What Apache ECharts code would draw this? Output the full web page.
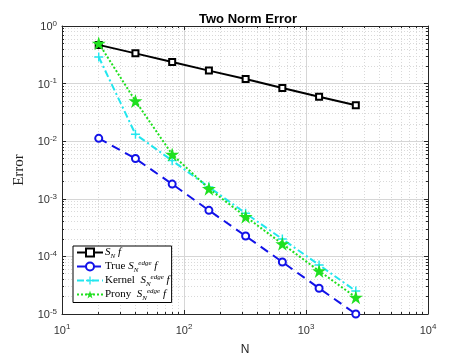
<!DOCTYPE html>
<html>
<head>
<meta charset="utf-8">
<script src="https://cdn.jsdelivr.net/npm/echarts@6/dist/echarts.min.js"></script>
<style>html,body{margin:0;padding:0;background:#fff}#c{width:474px;height:355px}</style>
</head>
<body>
<div id="c"></div>
<script>
var N = [20, 40, 80, 160, 320, 640, 1280, 2560];
var snF = [0.47, 0.335, 0.237, 0.168, 0.12, 0.084, 0.059, 0.042];
var trueEdge = [0.0112, 0.0050, 0.0018, 0.00063, 0.000226, 0.00008, 0.000028, 0.00001];
var kernelEdge = [0.29, 0.0132, 0.0046, 0.0016, 0.00056, 0.0002, 0.000071, 0.000025];
var pronyEdge = [0.50, 0.050, 0.0059, 0.0015, 0.00049, 0.000165, 0.000056, 0.0000195];
var seriesNames = ['Sn', 'True', 'Kernel', 'Prony'];

function pairs(ys) { return N.map(function (n, i) { return [n, ys[i]]; }); }
function expLabel(v) {
  var e = Math.round(Math.log(v) / Math.LN10);
  return '{b|10}{s|' + (e < 0 ? '-' + (-e) : e) + '}';
}
var tickRich = {
  b: { fontSize: 11, fontFamily: 'Liberation Sans, Arial, sans-serif', color: '#333', lineHeight: 13, verticalAlign: 'bottom' },
  s: { fontSize: 8, fontFamily: 'Liberation Sans, Arial, sans-serif', color: '#333', lineHeight: 13, verticalAlign: 'top' }
};
var lgRich = {
  r: { fontFamily: 'Liberation Serif, Times New Roman, serif', fontSize: 11, color: '#000', lineHeight: 14, verticalAlign: 'middle' },
  i: { fontFamily: 'Liberation Serif, Times New Roman, serif', fontStyle: 'italic', fontSize: 11, color: '#000', lineHeight: 14, verticalAlign: 'middle' },
  sub: { fontFamily: 'Liberation Serif, Times New Roman, serif', fontStyle: 'italic', fontSize: 7, color: '#000', lineHeight: 13, verticalAlign: 'bottom' },
  sup: { fontFamily: 'Liberation Serif, Times New Roman, serif', fontStyle: 'italic', fontSize: 7, color: '#000', lineHeight: 13, verticalAlign: 'top' }
};
var legendText = {
  Sn: '{i|S}{sub|N}{i| f}',
  True: '{r|True }{i|S}{sub|N}{sup|edge}{i| f}',
  Kernel: '{r|Kernel  }{i|S}{sub|N}{sup|edge}{i| f}',
  Prony: '{r|Prony  }{i|S}{sub|N}{sup|edge}{i| f}'
};
var starPath = 'path://M50,0L61.2,34.5L97.6,34.5L68.2,55.9L79.4,90.5L50,69.1L20.6,90.5L31.8,55.9L2.4,34.5L38.8,34.5Z';
var plusPath = 'path://M4.2,0H5.8V4.2H10V5.8H5.8V10H4.2V5.8H0V4.2H4.2Z';

var axisCol = '#262626';
function logAxis(pos, main, min, max) {
  return {
    type: 'log', logBase: 10, min: min, max: max, position: pos,
    axisLine: { show: true, onZero: false, lineStyle: { color: axisCol, width: 1 } },
    axisTick: { show: true, inside: true, length: 4, lineStyle: { color: axisCol } },
    minorTick: { show: true, splitNumber: 9, length: 2, lineStyle: { color: axisCol } },
    axisLabel: main ? { show: true, formatter: expLabel, rich: tickRich, margin: pos === 'bottom' ? 9 : 5 } : { show: false },
    splitLine: { show: main, lineStyle: { color: '#d6d6d6', width: 1 } },
    minorSplitLine: { show: main, lineStyle: { color: '#d9d9d9', type: [1, 2], width: 1 } }
  };
}
var xa0 = logAxis('bottom', true, 10, 10000);
xa0.name = 'N'; xa0.nameLocation = 'middle'; xa0.nameGap = 30;
xa0.nameTextStyle = { fontFamily: 'Liberation Sans, Arial, sans-serif', fontSize: 12, color: '#222' };
var ya0 = logAxis('left', true, 0.00001, 1);
ya0.name = 'Error'; ya0.nameLocation = 'middle'; ya0.nameGap = 29;
ya0.nameTextStyle = { fontFamily: 'Liberation Serif, Times New Roman, serif', fontSize: 15, color: '#222' };

var option = {
  animation: false,
  backgroundColor: '#fff',
  title: {
    text: 'Two Norm Error', left: 243, top: 8, textAlign: 'center',
    textStyle: { fontFamily: 'Liberation Sans, Arial, sans-serif', fontSize: 13, fontWeight: 'bold', color: '#000' }
  },
  grid: { left: 62, right: 46, top: 26, bottom: 41, containLabel: false, outerBoundsMode: 'none' },
  xAxis: [xa0, logAxis('top', false, 10, 10000)],
  yAxis: [ya0, logAxis('right', false, 0.00001, 1)],
  legend: {
    orient: 'vertical', left: 73, top: 246,
    backgroundColor: '#fff', borderColor: '#000', borderWidth: 1,
    padding: [1, 2, 1, 3], itemGap: 0, itemWidth: 26, itemHeight: 10,
    data: seriesNames,
    formatter: function (n) { return legendText[n]; },
    textStyle: { rich: lgRich, padding: [0, 0, 0, -3] }
  },
  series: [
    { name: 'Sn', type: 'line', data: pairs(snF), symbol: 'emptyRect', symbolSize: 6,
      lineStyle: { color: '#000', width: 2 }, itemStyle: { color: '#000', borderWidth: 1.2 }, z: 3 },
    { name: 'True', type: 'line', data: pairs(trueEdge), symbol: 'emptyCircle', symbolSize: 7,
      lineStyle: { color: '#1212e8', width: 2, type: [9, 6] }, itemStyle: { color: '#1212e8', borderWidth: 1.8 }, z: 4 },
    { name: 'Kernel', type: 'line', data: pairs(kernelEdge), symbol: plusPath, symbolSize: 9,
      lineStyle: { color: '#22e6ee', width: 2, type: [7, 3, 2, 3] }, itemStyle: { color: '#22e6ee' }, z: 5 },
    { name: 'Prony', type: 'line', data: pairs(pronyEdge), symbol: starPath, symbolSize: 14,
      lineStyle: { color: '#1fe01f', width: 2, type: [2, 2] }, itemStyle: { color: '#1fe01f' }, z: 6 }
  ]
};
var chart = echarts.init(document.getElementById('c'), null, { renderer: 'canvas' });
chart.setOption(option);
</script>
</body>
</html>
